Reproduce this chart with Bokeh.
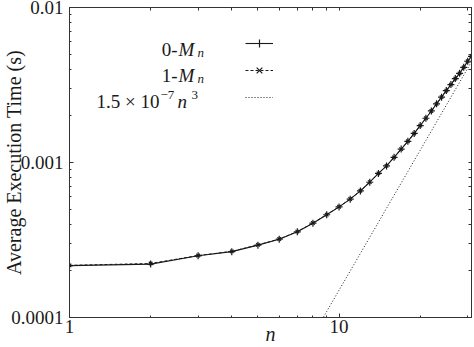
from bokeh.plotting import figure
from bokeh.models import (Range1d, FixedTicker, LogAxis, Label, Legend, LegendItem)
from bokeh.core.properties import value
from bokeh.embed import file_html
from bokeh.resources import INLINE

# ---- data ----
n_vals = list(range(1, 32))
m0_vals = [2.16e-4, 2.21e-4, 2.50e-4, 2.66e-4, 2.93e-4, 3.20e-4, 3.57e-4, 4.06e-4,
           4.60e-4, 5.17e-4, 5.80e-4, 6.56e-4, 7.46e-4, 8.50e-4, 9.50e-4, 1.08e-3,
           1.22e-3, 1.37e-3, 1.54e-3, 1.73e-3, 1.93e-3, 2.15e-3, 2.39e-3, 2.64e-3,
           2.91e-3, 3.18e-3, 3.48e-3, 3.76e-3, 4.11e-3, 4.50e-3, 4.84e-3]
m1_vals = [2.17e-4, 2.23e-4, 2.51e-4, 2.67e-4, 2.94e-4, 3.21e-4, 3.58e-4, 4.07e-4,
           4.61e-4, 5.18e-4, 5.81e-4, 6.57e-4, 7.47e-4, 8.51e-4, 9.51e-4, 1.08e-3,
           1.22e-3, 1.37e-3, 1.54e-3, 1.73e-3, 1.93e-3, 2.15e-3, 2.39e-3, 2.64e-3,
           2.91e-3, 3.18e-3, 3.48e-3, 3.76e-3, 4.11e-3, 4.50e-3, 4.84e-3]
cubic_n = list(range(8, 32))
cubic_vals = [7.68e-5, 1.094e-4, 1.50e-4, 1.997e-4, 2.592e-4, 3.296e-4, 4.116e-4,
              5.063e-4, 6.144e-4, 7.370e-4, 8.748e-4, 1.029e-3, 1.200e-3, 1.389e-3,
              1.597e-3, 1.825e-3, 2.074e-3, 2.344e-3, 2.636e-3, 2.952e-3, 3.293e-3,
              3.658e-3, 4.050e-3, 4.469e-3]
x_major = [1, 10]
x_minor = [2, 3, 4, 5, 6, 7, 8, 9, 20, 30]
y_major = [1e-4, 1e-3, 1e-2]
y_minor = [2e-4, 3e-4, 4e-4, 5e-4, 6e-4, 7e-4, 8e-4, 9e-4,
           2e-3, 3e-3, 4e-3, 5e-3, 6e-3, 7e-3, 8e-3, 9e-3]
y_labels = {1e-4: "0.0001", 1e-3: "0.001", 1e-2: "0.01"}
x_labels = {1: "1", 10: "10"}
x_title = "n"
y_title = "Average Execution Time (s)"

FONT = "Liberation Serif"
INK = "#1a1a1a"

W, H = 474, 347
FL, FR, FT, FB = 69, 3, 7, 30   # borders
FX0 = FL
FY1 = H - FB                   # frame bottom in canvas px

p = figure(width=W, height=H, x_axis_type="log", y_axis_type="log",
           x_range=Range1d(1, 31), y_range=Range1d(1e-4, 1e-2),
           output_backend="svg", toolbar_location=None,
           min_border_left=FL, min_border_right=FR, min_border_top=FT, min_border_bottom=FB)
p.grid.visible = False
p.background_fill_color = "white"
p.border_fill_color = "white"
p.outline_line_color = "#333333"

for ax, maj, mnr, labels in ((p.xaxis[0], x_major, x_minor, x_labels),
                             (p.yaxis[0], y_major, y_minor, y_labels)):
    ax.ticker = FixedTicker(ticks=maj, minor_ticks=mnr)
    ax.major_label_overrides = labels
    ax.major_label_text_font = FONT
    ax.major_label_text_font_size = "19px"
    ax.major_label_text_color = INK
    ax.major_tick_in = 4
    ax.major_tick_out = 0
    ax.minor_tick_in = 2
    ax.minor_tick_out = 0
    ax.axis_line_color = "#333333"
    ax.major_tick_line_color = "#333333"
    ax.minor_tick_line_color = "#333333"
    ax.axis_label_text_font = FONT
    ax.axis_label_text_font_size = "20px"
    ax.axis_label_text_color = INK

xa = p.xaxis[0]
xa.major_label_standoff = 2
xa.axis_label = x_title
xa.axis_label_text_font_style = "italic"
xa.axis_label_standoff = -13

ya = p.yaxis[0]
ya.major_label_standoff = 6
ya.axis_label = y_title
ya.axis_label_text_font_style = "normal"
ya.axis_label_standoff = -17

top = LogAxis(ticker=FixedTicker(ticks=[], minor_ticks=x_major + x_minor),
              major_label_text_font_size="0px", minor_tick_in=3, minor_tick_out=0,
              major_tick_in=0, major_tick_out=0, axis_line_color="#333333",
              minor_tick_line_color="#333333")
right = LogAxis(ticker=FixedTicker(ticks=[], minor_ticks=y_major + y_minor),
                major_label_text_font_size="0px", minor_tick_in=3, minor_tick_out=0,
                major_tick_in=0, major_tick_out=0, axis_line_color="#333333",
                minor_tick_line_color="#333333")
p.add_layout(top, "above")
p.add_layout(right, "right")

l0 = p.line(n_vals, m0_vals, line_color=INK, line_width=1.1)
s0 = p.scatter(n_vals, m0_vals, marker="cross", size=7, line_color=INK, line_width=1.2)
l1 = p.line(n_vals, m1_vals, line_color=INK, line_width=1, line_dash="3 2")
s1 = p.scatter(n_vals, m1_vals, marker="x", size=5, line_color=INK, line_width=1.2)
l2 = p.line(cubic_n, cubic_vals, line_color=INK, line_width=1, line_dash="1 2")

legend = Legend(items=[LegendItem(label=value(" "), renderers=[l0, s0]),
                       LegendItem(label=value(" "), renderers=[l1, s1]),
                       LegendItem(label=value(" "), renderers=[l2])],
                location=(176, 210), glyph_width=28, glyph_height=20, label_height=20,
                label_text_font_size="8px", spacing=7, padding=0, margin=0,
                border_line_color=None, background_fill_alpha=0)
p.add_layout(legend)


def lab(text, cx, cy, size="19px", style="normal", align="left"):
    p.add_layout(Label(x=cx - FX0, y=FY1 - cy, x_units="screen", y_units="screen", text=text,
                       text_font=FONT, text_font_size=size, text_font_style=style,
                       text_color=INK, text_align=align, text_baseline="alphabetic"))

# legend texts (right part of the legend rows)
lab("0-", 177, 49, align="right")
lab("M", 178, 49, style="italic")
lab("n", 197, 52, size="13px", style="italic")
lab("1-", 177, 75, align="right")
lab("M", 178, 75, style="italic")
lab("n", 197, 78, size="13px", style="italic")
lab("1.5 × 10", 159, 101, align="right")
lab("−7", 160, 94, size="13px")
lab("n", 177, 101, style="italic")
lab("3", 191, 94, size="13px")

open("out.html", "w").write(file_html(p, INLINE))
